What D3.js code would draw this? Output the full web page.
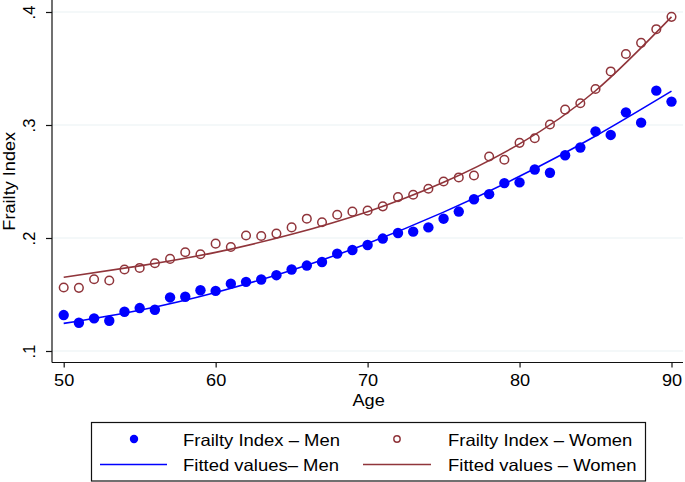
<!DOCTYPE html>
<html>
<head>
<meta charset="utf-8">
<script src="https://cdn.jsdelivr.net/npm/d3@7/dist/d3.min.js"></script>
<style>
    body { margin: 0; background: #fff; }
    text { font-family: "Liberation Sans", Arial, sans-serif; fill: #000; }
</style>
</head>
<body>
<script>
// Ages (x) and the mean frailty index per age.
const ages = [50, 51, 52, 53, 54, 55, 56, 57, 58, 59, 60, 61, 62, 63, 64, 65, 66, 67, 68, 69, 70,
              71, 72, 73, 74, 75, 76, 77, 78, 79, 80, 81, 82, 83, 84, 85, 86, 87, 88, 89, 90];
const menFI = [0.1318, 0.125, 0.1289, 0.1268, 0.1347, 0.138, 0.1365, 0.1474, 0.148, 0.1538, 0.1532,
               0.1596, 0.1612, 0.1633, 0.1671, 0.1721, 0.1756, 0.1788, 0.1862, 0.1894, 0.1938,
               0.1995, 0.2044, 0.2056, 0.2094, 0.2171, 0.2234, 0.2343, 0.2388, 0.2486, 0.2492,
               0.2606, 0.2577, 0.2732, 0.2801, 0.2944, 0.2912, 0.3112, 0.3021, 0.3304, 0.3207];
const womenFI = [0.1562, 0.1559, 0.1635, 0.1624, 0.1721, 0.1735, 0.1777, 0.1815, 0.1874, 0.1856, 0.195,
                 0.192, 0.2022, 0.2018, 0.2039, 0.2094, 0.2171, 0.2139, 0.2206, 0.2233, 0.2242,
                 0.228, 0.2362, 0.2383, 0.2436, 0.25, 0.2536, 0.2553, 0.2721, 0.2692, 0.2842,
                 0.2883, 0.3004, 0.3136, 0.3192, 0.3319, 0.3474, 0.3628, 0.3727, 0.3848, 0.3957];

// Fitted curves, read at every 5 years.
const fitAges = [50, 55, 60, 65, 70, 75, 80, 85, 90];
const menFit = [0.1244, 0.1361, 0.1518, 0.1715, 0.1952, 0.2229, 0.2546, 0.2903, 0.33];
const womenFit = [0.1653, 0.1753, 0.1873, 0.2033, 0.2233, 0.2493, 0.2833, 0.3303, 0.3957];

const xTicks = [50, 60, 70, 80, 90];
const yTicks = [0.1, 0.2, 0.3, 0.4];
const yTickLabels = [".1", ".2", ".3", ".4"];

const legendLabels = ["Frailty Index \u2013 Men", "Frailty Index \u2013 Women",
                      "Fitted values\u2013 Men", "Fitted values \u2013 Women"];

const width = 685;
const height = 482;
const plotLeft = 52;
const plotRight = 683;
const plotTop = 0;
const plotBottom = 362.5;
const stretch = "scale(1.1,1)";
const legendStretch = "scale(1.12,1)";

const blue = "#0000ff";
const maroon = "#90353b";

const x = d3.scaleLinear()
    .domain([50, 90])
    .range([63.7, 671.5]);

const y = d3.scaleLinear()
    .domain([0.1, 0.4])
    .range([351, 12]);

const svg = d3.select("body")
    .append("svg")
        .attr("width", width)
        .attr("height", height);

// Grid lines.
svg.append("g")
    .selectAll("line")
    .data(yTicks)
    .join("line")
        .attr("x1", plotLeft)
        .attr("x2", plotRight)
        .attr("y1", d => y(d))
        .attr("y2", d => y(d))
        .attr("stroke", "#eaf2f3")
        .attr("stroke-width", 1.2);

// Axis lines.
svg.append("line")
    .attr("x1", plotLeft).attr("x2", plotLeft)
    .attr("y1", plotTop).attr("y2", plotBottom)
    .attr("stroke", "#111").attr("stroke-width", 1.2);
svg.append("line")
    .attr("x1", plotLeft).attr("x2", plotRight)
    .attr("y1", plotBottom).attr("y2", plotBottom)
    .attr("stroke", "#111").attr("stroke-width", 1.2);

// X axis.
const xAxis = svg.append("g")
    .attr("transform", `translate(0,${plotBottom})`)
    .call(d3.axisBottom(x).tickValues(xTicks).tickSize(5).tickFormat(d3.format("d")));
xAxis.select(".domain").remove();
xAxis.selectAll("line").attr("stroke", "#111").attr("stroke-width", 1.2);
xAxis.selectAll("text")
    .attr("font-size", 16.5)
    .attr("font-family", "Liberation Sans, Arial, sans-serif")
    .attr("dy", null)
    .attr("y", 24)
    .attr("transform", stretch);

// Y axis.
const yAxis = svg.append("g")
    .attr("transform", `translate(${plotLeft},0)`)
    .call(d3.axisLeft(y).tickValues(yTicks).tickSize(6).tickFormat((d, i) => yTickLabels[i]));
yAxis.select(".domain").remove();
yAxis.selectAll("line").attr("stroke", "#111").attr("stroke-width", 1.2);
yAxis.selectAll("text")
    .attr("font-size", 16.5)
    .attr("font-family", "Liberation Sans, Arial, sans-serif")
    .attr("x", null)
    .attr("dy", null)
    .attr("text-anchor", "middle")
    .attr("transform", "translate(-17,0) rotate(-90)");

// Axis titles.
svg.append("text")
    .attr("text-anchor", "middle")
    .attr("font-size", 16.5)
    .attr("transform", `translate(${(x(50) + x(90)) / 2 + 1},405.5) ${stretch}`)
    .text("Age");
svg.append("text")
    .attr("text-anchor", "middle")
    .attr("font-size", 16.5)
    .attr("transform", `translate(15,${(plotTop + plotBottom) / 2}) rotate(-90) ${stretch}`)
    .text("Frailty Index");

// Fitted lines.
const line = d3.line()
    .x((d, i) => x(fitAges[i]))
    .y(d => y(d))
    .curve(d3.curveNatural);

svg.append("path")
    .datum(menFit)
    .attr("d", line)
    .attr("fill", "none")
    .attr("stroke", blue)
    .attr("stroke-width", 1.6);

svg.append("path")
    .datum(womenFit)
    .attr("d", line)
    .attr("fill", "none")
    .attr("stroke", maroon)
    .attr("stroke-width", 1.6);

// Data points.
svg.append("g")
    .selectAll("circle")
    .data(womenFI)
    .join("circle")
        .attr("cx", (d, i) => x(ages[i]))
        .attr("cy", d => y(d))
        .attr("r", 4.3)
        .attr("fill", "none")
        .attr("stroke", maroon)
        .attr("stroke-width", 1.5);

svg.append("g")
    .selectAll("circle")
    .data(menFI)
    .join("circle")
        .attr("cx", (d, i) => x(ages[i]))
        .attr("cy", d => y(d))
        .attr("r", 5.2)
        .attr("fill", blue);

// Legend.
const legend = svg.append("g");
legend.append("rect")
    .attr("x", 91.5).attr("y", 422.5)
    .attr("width", 554).attr("height", 58.5)
    .attr("fill", "#fff")
    .attr("stroke", "#111")
    .attr("stroke-width", 1.2);

legend.append("circle")
    .attr("cx", 134).attr("cy", 439).attr("r", 4.2)
    .attr("fill", blue);
legend.append("circle")
    .attr("cx", 397).attr("cy", 439).attr("r", 3.2)
    .attr("fill", "none").attr("stroke", maroon).attr("stroke-width", 1.4);
legend.append("line")
    .attr("x1", 100).attr("x2", 167).attr("y1", 464.5).attr("y2", 464.5)
    .attr("stroke", blue).attr("stroke-width", 1.6);
legend.append("line")
    .attr("x1", 363).attr("x2", 431).attr("y1", 464.5).attr("y2", 464.5)
    .attr("stroke", maroon).attr("stroke-width", 1.6);

const legendPos = [[183, 445.5], [448, 445.5], [183, 470.5], [448, 470.5]];
legend.selectAll("text.item")
    .data(legendLabels)
    .join("text")
        .attr("class", "item")
        .attr("font-size", 16.5)
        .attr("transform", (d, i) => `translate(${legendPos[i][0]},${legendPos[i][1]}) ${legendStretch}`)
        .text(d => d);
</script>
</body>
</html>
